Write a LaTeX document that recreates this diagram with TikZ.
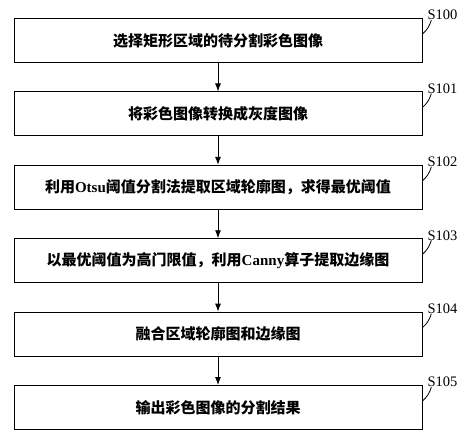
\documentclass[tikz,border=0pt]{standalone}
\usepackage{fontspec}
\setmainfont{Liberation Serif}
\newfontfamily\cjk{Noto Sans CJK SC}
\usetikzlibrary{positioning,arrows.meta}

\tikzset{
  stepbox/.style={draw, line width=0.9pt, minimum width=408pt, minimum height=44pt,
    inner sep=0pt, font=\cjk\bfseries\fontsize{15}{18}\selectfont},
  steplabel/.style={inner sep=0pt, font=\fontsize{14.5}{16}\selectfont},
  flow/.style={line width=0.9pt, -{Latex[length=8pt,width=6pt]}},
  leader/.style={line width=0.8pt}
}

\begin{document}
\begin{tikzpicture}
  \useasboundingbox (0,0) rectangle (474pt,-441pt);
  % steps
  \node[stepbox] (s100) at (218pt,-40.5pt) {选择矩形区域的待分割彩色图像};
  \node[stepbox, below=28.5pt of s100] (s101) {将彩色图像转换成灰度图像};
  \node[stepbox, below=28.5pt of s101] (s102) {利用{\rmfamily\bfseries Otsu}阈值分割法提取区域轮廓图，求得最优阈值};
  \node[stepbox, below=28.5pt of s102] (s103) {以最优阈值为高门限值，利用{\rmfamily\bfseries Canny}算子提取边缘图};
  \node[stepbox, below=28.5pt of s103] (s104) {融合区域轮廓图和边缘图};
  \node[stepbox, below=28.5pt of s104] (s105) {输出彩色图像的分割结果};
  % arrows
  \draw[flow] (s100) -- (s101);
  \draw[flow] (s101) -- (s102);
  \draw[flow] (s102) -- (s103);
  \draw[flow] (s103) -- (s104);
  \draw[flow] (s104) -- (s105);
  % step labels with leaders
  \foreach \s in {100,101,102,103,104,105}{
    \node[steplabel, anchor=center] (lab\s) at ([xshift=20pt,yshift=3pt]s\s.north east) {S\s};
    \draw[leader] ([yshift=-16pt]s\s.north east) to[bend right=15] ([xshift=4pt]lab\s.south west);
  }
\end{tikzpicture}
\end{document}
